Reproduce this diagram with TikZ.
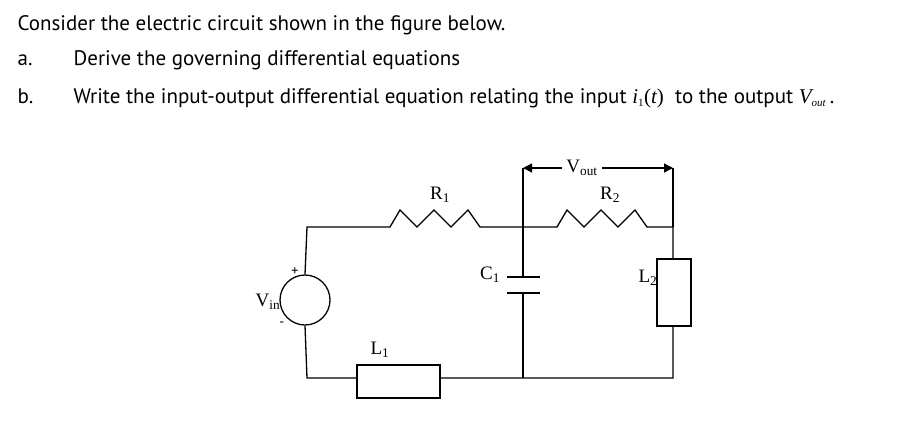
\documentclass[tikz,border=0pt]{standalone}
\usepackage{fontspec}
\setmainfont{PT Sans}
\newfontfamily\tms{Liberation Serif}
\usetikzlibrary{arrows.meta}
\begin{document}
\begin{tikzpicture}[x=1pt,y=-1pt,line width=1.3pt,
  txt/.style={anchor=base west,inner sep=0,font=\fontsize{21}{24}\selectfont},
  lbl/.style={inner sep=0,font=\tms\fontsize{19}{22}\selectfont},
  box/.style={draw,fill=white,minimum width=#1,inner sep=0}]
\useasboundingbox (0,0) rectangle (910,440);
\node[txt] (t1) at (17,30) {Consider the electric circuit shown in the figure below.};
\node[txt] (ta) at (17,65) {a.};
\node[txt] (ta2) at (73,65) {Derive the governing differential equations};
\node[txt] (tb) at (17,103) {b.};
\node[txt] (tb2) at (73,103) {Write the input-output differential equation relating the input {\tms\itshape i\textsubscript{\upshape\fontsize{11}{12}\selectfont 1}\upshape(\itshape t\upshape)} \ to the output {\tms\itshape V\textsubscript{\fontsize{11}{12}\selectfont out}}\,.};
% coordinates
\coordinate (tl) at (307,227);
\coordinate (tm) at (523,227);
\coordinate (tr) at (673,227);
\coordinate (bl) at (307,378);
\coordinate (bm) at (523,378);
\coordinate (br) at (673,378);
\node[draw,circle,minimum size=50,inner sep=0] (vs) at (305,300) {};
\draw (vs.north) -- (tl) -- (390,227)
  -- ++(10,-17) -- ++(17,17) -- ++(17,-17) -- ++(17,17) -- ++(17,-17) -- ++(12,17) -- (tm) -- (557,227)
  -- ++(10,-17) -- ++(17,17) -- ++(17,-17) -- ++(17,17) -- ++(17,-17) -- ++(12,17) -- (tr);
\draw (vs.south) -- (bl) -- (br) -- (tr);
\node[box=83,minimum height=33] (L1) at (398.5,381.5) {};
\node[box=34,minimum height=67] (L2) at (674,292.5) {};
\draw (tm) -- (523,277) (507,277) -- (540,277) (507,293) -- (540,293) (523,293) -- (bm);
\draw (tm) -- (523,168) (tr) -- (673,168);
\node[lbl] (vo) at (582,168) {V\textsubscript{out}};
\draw[-{Triangle[length=9pt,width=9pt]}] (vo.west) ++(-4,0) -- (523,168);
\draw[-{Triangle[length=9pt,width=9pt]}] (vo.east) ++(4,0) -- (673,168);
\node[lbl] (r1) at (440,195) {R\textsubscript{1}};
\node[lbl] (r2) at (610,195) {R\textsubscript{2}};
\node[lbl] (cl) at (490,275) {C\textsubscript{1}};
\node[lbl] (l2l) at (648,278) {L\textsubscript{2}};
\node[lbl] (l1l) at (380,350) {L\textsubscript{1}};
\node[lbl] (vin) at (268,302) {V\textsubscript{in}};
\node[inner sep=0,font=\fontsize{14}{14}\selectfont] (pl) at (295,272) {+};
\node[inner sep=0,font=\fontsize{14}{14}\selectfont] (mi) at (282,324) {-};
\end{tikzpicture}
\end{document}
